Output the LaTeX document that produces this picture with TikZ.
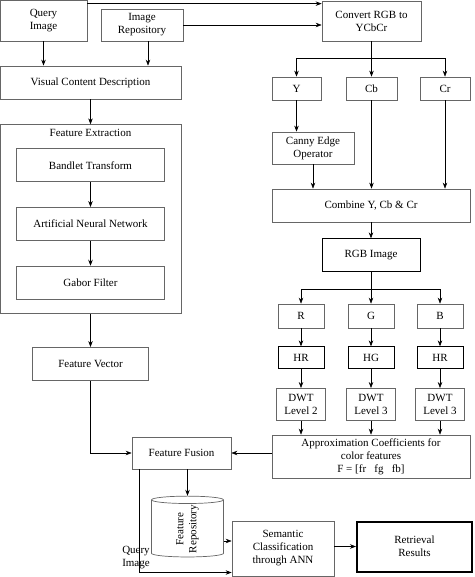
\documentclass[tikz,border=0pt]{standalone}
\usepackage{fontspec}
\setmainfont{Liberation Serif}
\usepackage{tikz}
\usetikzlibrary{positioning, arrows.meta, shapes.geometric}
\tikzset{
	>={Stealth[length=6pt,width=4.5pt]}, % filled arrow heads
	box/.style={draw=black!60, line width=0.7pt, align=center, inner sep=1pt, font=\fontsize{11}{13}\selectfont}, % every block
	dark/.style={box, draw=black}, % blocks with a black frame
	result/.style={box, draw=black, line width=2pt}, % final block
	store/.style={box, cylinder, rotate=90, aspect=0.3}, % database drum
	plain/.style={align=center, inner sep=0pt, font=\fontsize{11}{13}\selectfont},
}

\begin{document}
\begin{tikzpicture}[x=1pt, y=-1pt, line width=0.6pt]
		\path[use as bounding box] (0,0) rectangle (474,577);

		% left column
		\node[box, minimum width=87pt, minimum height=41pt] (qimg) at (43.5,20.5) {Query\\Image};
		\node[box, minimum width=82pt, minimum height=32pt] (irepo) at (142,25) {Image\\Repository};
		\node[box, minimum width=181pt, minimum height=33pt] (vcd) at (90.5,82.5) {Visual Content Description};
		\node[box, minimum width=181pt, minimum height=189pt, below=25pt of vcd] (fe) {};
		\node[plain, below=5pt of fe.north] (fetitle) {Feature Extraction};
		\node[box, minimum width=148pt, minimum height=33pt, below=24pt of fe.north] (bandlet) {Bandlet Transform};
		\node[box, minimum width=148pt, minimum height=33pt, below=25pt of bandlet] (ann) {Artificial Neural Network};
		\node[box, minimum width=148pt, minimum height=33pt, below=25pt of ann] (gabor) {Gabor Filter};
		\node[box, minimum width=116pt, minimum height=33pt, below=33pt of fe] (fv) {Feature Vector};
		\node[box, minimum width=99pt, minimum height=32pt] (ffus) at (181.5,453) {Feature Fusion};
		\node[store, minimum width=72pt, minimum height=53pt] (frepo) at (187.5,529) {Feature\\Repository};
		\node[plain] (qlbl) at (136,558) {Query\\Image};
		\node[box, minimum width=102pt, minimum height=55pt] (sem) at (283,548.5) {Semantic\\Classification\\through ANN};
		\node[result, minimum width=115pt, minimum height=50pt] (ret) at (414.5,546.5) {Retrieval\\Results};

		% right column
		\node[box, minimum width=99pt, minimum height=40pt] (conv) at (371.5,21) {Convert RGB to\\YCbCr};
		\node[box, minimum width=49pt, minimum height=23pt] (ychan) at (296.5,88.5) {Y};
		\node[box, minimum width=51pt, minimum height=23pt] (cbchan) at (371.5,88.5) {Cb};
		\node[box, minimum width=50pt, minimum height=23pt] (crchan) at (445,88.5) {Cr};
		\node[box, minimum width=82pt, minimum height=32pt] (canny) at (313,148) {Canny Edge\\Operator};
		\node[box, minimum width=198pt, minimum height=33pt] (comb) at (371,205.5) {Combine Y, Cb \& Cr};
		\node[dark, minimum width=98pt, minimum height=33pt, below=16pt of comb] (rgb) {RGB Image};
		\node[box, minimum width=198pt, minimum height=43pt] (approx) at (371,456.5) {Approximation Coefficients for\\color features\\F = [fr\ \ \ fg\ \ \ fb]};

		\coordinate[below=17pt of conv.south] (ysplit);
		\coordinate[below=17pt of rgb.south] (rgbsplit);

		\foreach \n/\t/\h/\l/\x in {r/R/HR/2/301, g/G/HG/3/371, b/B/HR/3/440}
		{
			\node[box, minimum width=46pt, minimum height=24pt] (ch\n) at (\x,316) {\t};
			\node[dark, minimum width=46pt, minimum height=22pt, below=18pt of ch\n] (hist\n) {\h};
			\node[box, minimum width=49pt, minimum height=32pt, below=19pt of hist\n] (dwt\n) {DWT\\Level \l};
			\draw[->] (ch\n) -- (hist\n);
			\draw[->] (hist\n) -- (dwt\n);
			\draw[->] (dwt\n) -- (dwt\n |- approx.north);
		}

		% connectors
		\draw[->] (qimg) -- (qimg |- vcd.north);
		\draw[->] ([xshift=6pt]irepo.south) -- ([xshift=6pt]irepo.south |- vcd.north);
		\draw[->] ([yshift=-4pt]qimg.north east) -- ([yshift=-4pt]qimg.north east -| conv.west);
		\draw[->] (irepo.east) -- (irepo.east -| conv.west);
		\draw[->] (vcd) -- (fe.north);
		\draw[->] (bandlet) -- (ann);
		\draw[->] (ann) -- (gabor);
		\draw[->] (fe.south) -- (fv.north);
		\draw[->] (fv.south) |- (ffus.west);
		\draw[->] (ffus.east -| approx.west) -- (ffus.east);
		\draw[->] (frepo.east |- ffus.south) -- (frepo.east);
		\draw[->] ([yshift=-12pt]frepo.south) -- ([yshift=-12pt]frepo.south -| sem.west);
		\draw[->] ([xshift=8pt]ffus.south west) |- ([yshift=-24pt]sem.west);
		\draw[->] (sem.east |- ret.west) -- (ret.west);

		\draw[->] (conv) -- (cbchan);
		\draw[->] (ysplit) -| (ychan.north);
		\draw[->] (ysplit) -| (crchan.north);
		\draw[->] (ychan) -- (ychan |- canny.north);
		\draw[->] (canny) -- (canny |- comb.north);
		\draw[->] (cbchan) -- (cbchan |- comb.north);
		\draw[->] (crchan) -- (crchan |- comb.north);
		\draw[->] (comb) -- (rgb);
		\draw[->] (rgbsplit) -| (chr.north);
		\draw[->] (rgbsplit) -| (chb.north);
		\draw[->] (rgb) -- (chg);

	\end{tikzpicture}
\end{document}
